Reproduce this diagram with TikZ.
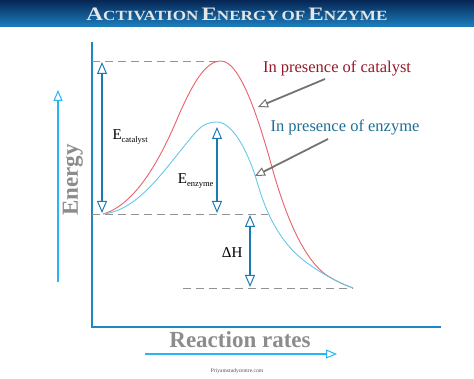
\documentclass[tikz,border=0pt]{standalone}
\usepackage{fontspec}
\setmainfont{Liberation Serif}
\usetikzlibrary{positioning,arrows.meta}
\definecolor{barnavy}{RGB}{6,38,84}
\definecolor{barblue}{RGB}{28,128,192}
\definecolor{axisblue}{RGB}{30,136,196}
\definecolor{lightarrow}{RGB}{41,181,239}
\definecolor{gapblue}{RGB}{26,122,178}
\definecolor{catred}{RGB}{232,96,106}
\definecolor{enzblue}{RGB}{100,200,232}
\definecolor{catlabel}{RGB}{150,25,40}
\definecolor{enzlabel}{RGB}{30,110,150}
\definecolor{axislabel}{RGB}{140,140,140}
\newcommand{\capsc}[2]{{\fontsize{19}{19}\selectfont #1}{\fontsize{14}{14}\selectfont #2}}
\newcommand{\esub}[1]{E\raisebox{-0.45ex}{\fontsize{8.5}{8.5}\selectfont #1}}

\begin{document}
\begin{tikzpicture}[x=1pt,y=-1pt,
		levelline/.style={draw=gray!85, line width=0.8pt, dash pattern=on 8pt off 5pt},
		gaparrow/.style={draw=gapblue, line width=2.4pt,
			{Triangle[open,length=12pt,width=10pt,line width=1pt]}-{Triangle[open,length=12pt,width=10pt,line width=1pt]}},
		axisarrow/.style={draw=lightarrow, line width=1.6pt,
			-{Triangle[open,length=11pt,width=9pt,line width=1pt]}},
		pointer/.style={draw=gray!90!black, line width=1.8pt,
			-{Triangle[open,length=10pt,width=9pt,line width=1pt]}},
		axistext/.style={text=axislabel, font=\bfseries\fontsize{23}{23}\selectfont},
		curvelabel/.style={font=\fontsize{16.5}{16.5}\selectfont}
	]
	\useasboundingbox (0,0) rectangle (474,379);
	% title bar
	\shade[top color=barnavy, bottom color=barblue] (0,0) rectangle (474,27);
	\node[text=gray!20, font=\bfseries] (title) at (237,14)
		{\scalebox{1.22}[1]{\capsc{A}{CTIVATION} \capsc{E}{NERGY} \capsc{}{OF} \capsc{E}{NZYME}}};

	% axes
	\coordinate (origin) at (92,327);
	\coordinate (ytop) at (92,42);
	\coordinate (xend) at (441,327);
	\draw[axisblue, line width=2.2pt] (ytop) -- (origin) -- (xend);

	% axis labels with arrows
	\node[axistext, rotate=90] (energy) at (73,180) {Energy};
	\coordinate (ebase) at (58,282);
	\coordinate (ehead) at (58,90);
	\draw[axisarrow] (ebase) -- (ehead);
	\node[axistext] (rates) at (240,340) {Reaction rates};
	\coordinate (rbase) at (145,354);
	\coordinate (rhead) at (337,354);
	\draw[axisarrow] (rbase) -- (rhead);
	\node[text=gray!60!black, font=\fontsize{5.5}{5.5}\selectfont] (site) at (237,371) {Priyamstudycentre.com};

	% energy levels
	\coordinate (react) at (103,214);
	\coordinate (prod) at (353,288);
	\coordinate (peakcat) at (221,61);
	\coordinate (peakenz) at (217,122);
	\draw[levelline] (92,61) -- (peakcat);
	\draw[levelline] (92,214) -- (268,214);
	\draw[levelline] (183,288) -- (prod);

	% curves
	\draw[catred, line width=0.9pt] (react)
		.. controls (135,205) and (160,160) .. (178,117)
		.. controls (192,85) and (205,61) .. (peakcat)
		.. controls (240,61) and (258,118) .. (270,160)
		.. controls (282,205) and (300,255) .. (325,274)
		.. controls (338,283) and (348,286) .. (prod);
	\draw[enzblue, line width=0.9pt] (react)
		.. controls (140,210) and (165,168) .. (195,133)
		.. controls (203,124) and (209,122) .. (peakenz)
		.. controls (232,122) and (248,150) .. (258,185)
		.. controls (266,212) and (280,245) .. (310,265)
		.. controls (330,279) and (345,285) .. (prod);

	% activation energies
	\coordinate (catlow) at (102,213);
	\coordinate (cathigh) at (102,62);
	\draw[gaparrow] (catlow) -- (cathigh);
	\node[anchor=west, font=\fontsize{15}{15}\selectfont] (ecat) at (109,137) {\esub{catalyst}};
	\coordinate (enzlow) at (217,213);
	\coordinate (enzhigh) at (217,127);
	\draw[gaparrow] (enzlow) -- (enzhigh);
	\node[anchor=east, font=\fontsize{15}{15}\selectfont] (eenz) at (217,181) {\esub{enzyme}};
	\coordinate (dhtop) at (250,215);
	\coordinate (dhlow) at (250,287);
	\draw[gaparrow] (dhtop) -- (dhlow);
	\node[anchor=east, font=\fontsize{15}{15}\selectfont] (dh) at (246,253) {ΔH};

	% curve labels
	\node[curvelabel, text=catlabel] (catname) at (337,68) {In presence of catalyst};
	\node[curvelabel, text=enzlabel] (enzname) at (345,127) {In presence of enzyme};
	\coordinate (catfrom) at (325,79);
	\coordinate (catto) at (258,107);
	\draw[pointer] (catfrom) -- (catto);
	\coordinate (enzfrom) at (328,139);
	\coordinate (enzto) at (255,176);
	\draw[pointer] (enzfrom) -- (enzto);
\end{tikzpicture}
\end{document}
